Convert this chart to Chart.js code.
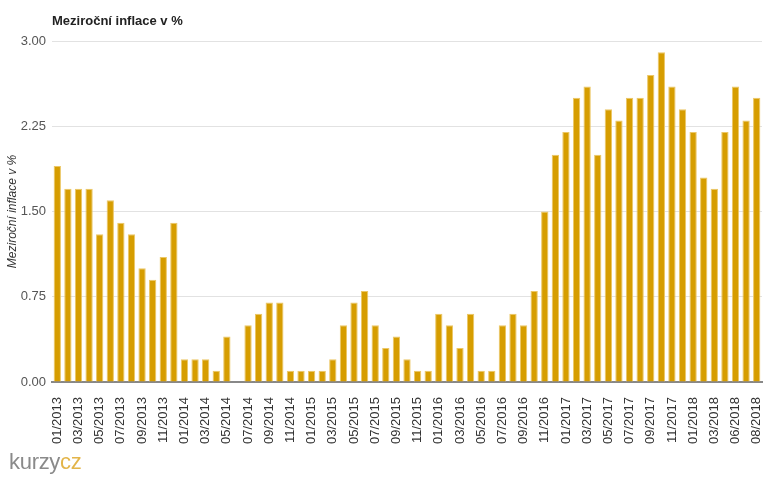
<html lang="cs">
<head>
    <meta charset="UTF-8">
    <title>Meziroční inflace v %</title>
    <script src="https://cdn.jsdelivr.net/npm/chart.js"></script>
    <style>
        body { margin: 0; background: #fff; font-family: "Liberation Sans", Arial, sans-serif; }
        #wrap { position: relative; width: 768px; height: 477px; }
        #title { position: absolute; left: 52px; top: 13px; font-size: 13px; font-weight: bold; color: #222; }
        #logo { position: absolute; left: 9px; top: 449px; font-size: 22px; letter-spacing: -0.3px; }
        #logo .k { color: #8a8a8a; }
        #logo .c { color: #e3b54a; }
    </style>
</head>
<body>
<div id="wrap">
    <canvas id="chart" width="768" height="477"></canvas>
    <div id="title">Meziroční inflace v %</div>
    <div id="logo"><span class="k">kurzy</span><span class="c">cz</span></div>
</div>
<script>
    const months = [
        '01/2013','02/2013','03/2013','04/2013','05/2013','06/2013','07/2013','08/2013','09/2013','10/2013','11/2013','12/2013',
        '01/2014','02/2014','03/2014','04/2014','05/2014','06/2014','07/2014','08/2014','09/2014','10/2014','11/2014','12/2014',
        '01/2015','02/2015','03/2015','04/2015','05/2015','06/2015','07/2015','08/2015','09/2015','10/2015','11/2015','12/2015',
        '01/2016','02/2016','03/2016','04/2016','05/2016','06/2016','07/2016','08/2016','09/2016','10/2016','11/2016','12/2016',
        '01/2017','02/2017','03/2017','04/2017','05/2017','06/2017','07/2017','08/2017','09/2017','10/2017','11/2017','12/2017',
        '01/2018','02/2018','03/2018','05/2018','06/2018','07/2018','08/2018'
    ];
    const inflation = [
        1.9, 1.7, 1.7, 1.7, 1.3, 1.6, 1.4, 1.3, 1.0, 0.9, 1.1, 1.4,
        0.2, 0.2, 0.2, 0.1, 0.4, 0.0, 0.5, 0.6, 0.7, 0.7, 0.1, 0.1,
        0.1, 0.1, 0.2, 0.5, 0.7, 0.8, 0.5, 0.3, 0.4, 0.2, 0.1, 0.1,
        0.6, 0.5, 0.3, 0.6, 0.1, 0.1, 0.5, 0.6, 0.5, 0.8, 1.5, 2.0,
        2.2, 2.5, 2.6, 2.0, 2.4, 2.3, 2.5, 2.5, 2.7, 2.9, 2.6, 2.4,
        2.2, 1.8, 1.7, 2.2, 2.6, 2.3, 2.5
    ];
    const yTicks = [0, 0.75, 1.5, 2.25, 3];

    new Chart(document.getElementById('chart'), {
        type: 'bar',
        data: {
            labels: months,
            datasets: [{
                label: 'Meziroční inflace v %',
                data: inflation,
                backgroundColor: '#d69d00',
                borderColor: '#ecc766',
                borderWidth: 1,
                barPercentage: 0.69,
                categoryPercentage: 1
            }]
        },
        options: {
            responsive: false,
            animation: false,
            layout: { padding: { top: 41, right: 6, left: 5, bottom: 0 } },
            plugins: { legend: { display: false }, tooltip: { enabled: false } },
            scales: {
                x: {
                    afterFit: function (scale) {
                        scale.height = 95;
                        scale.paddingLeft = 0;
                        scale.paddingRight = 0;
                    },
                    grid: { display: false, drawTicks: false },
                    border: { color: '#888', width: 2 },
                    ticks: {
                        autoSkip: false,
                        maxRotation: 90,
                        minRotation: 90,
                        padding: 15,
                        color: '#333',
                        font: { family: 'Liberation Sans', size: 13 },
                        callback: function (v, i) { return i % 2 === 0 ? months[i] : ''; }
                    }
                },
                y: {
                    min: 0,
                    max: 3,
                    afterFit: function (scale) { scale.width = 47; },
                    afterBuildTicks: function (scale) { scale.ticks = yTicks.map(v => ({ value: v })); },
                    border: { display: false },
                    grid: { color: '#e2e2e2', lineWidth: 1, drawTicks: false },
                    title: {
                        display: true,
                        text: 'Meziroční inflace v %',
                        color: '#333',
                        padding: 0,
                        font: { family: 'Liberation Sans', size: 12, style: 'italic' }
                    },
                    ticks: {
                        padding: 6,
                        color: '#555',
                        font: { family: 'Liberation Sans', size: 13 },
                        callback: function (v) { return v.toFixed(2); }
                    }
                }
            }
        }
    });
</script>
</body>
</html>
